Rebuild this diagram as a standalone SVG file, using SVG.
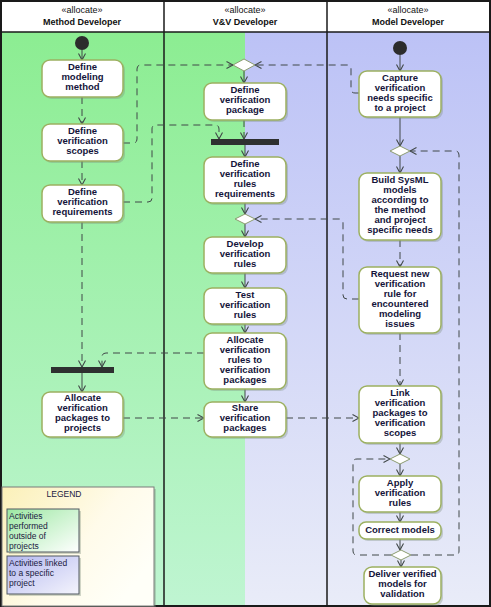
<svg xmlns="http://www.w3.org/2000/svg" width="491" height="607" viewBox="0 0 491 607">
<defs>
<linearGradient id="gGreen" gradientUnits="userSpaceOnUse" x1="0" y1="32" x2="0" y2="607">
<stop offset="0" stop-color="#8ced92"/><stop offset="1" stop-color="#bff5d2"/>
</linearGradient>
<linearGradient id="gBlue" gradientUnits="userSpaceOnUse" x1="0" y1="32" x2="0" y2="607">
<stop offset="0" stop-color="#bcc2f6"/><stop offset="1" stop-color="#e9ecf8"/>
</linearGradient>
<linearGradient id="gLegend" x1="0" y1="0" x2="1" y2="0.6">
<stop offset="0" stop-color="#fbf0b8"/><stop offset="0.6" stop-color="#fffbea"/><stop offset="1" stop-color="#fffff8"/>
</linearGradient>
<linearGradient id="gLG" x1="0" y1="0" x2="1" y2="1">
<stop offset="0" stop-color="#9ce8a2"/><stop offset="1" stop-color="#ffffff"/>
</linearGradient>
<linearGradient id="gLB" x1="0" y1="0" x2="1" y2="1">
<stop offset="0" stop-color="#b4b8f0"/><stop offset="1" stop-color="#f4f4fc"/>
</linearGradient>
<marker id="arr" markerUnits="userSpaceOnUse" markerWidth="9" markerHeight="9" viewBox="0 0 9 9" refX="8" refY="4.5" orient="auto">
<path d="M1.5,1 L8,4.5 L1.5,8" fill="none" stroke="#404848" stroke-width="1.1"/>
</marker>
<style>
.act{fill:#ffffff;stroke:#9cb060;stroke-width:1.5}
.shd{fill:#7c8c7c;opacity:0.35}
.t{font-family:"Liberation Sans",Arial,sans-serif;font-size:9.5px;font-weight:bold;fill:#14143a;text-anchor:middle}
.hs{font-family:"Liberation Sans",Arial,sans-serif;font-size:9px;fill:#111;text-anchor:middle}
.hn{font-family:"Liberation Sans",Arial,sans-serif;font-size:9px;font-weight:bold;fill:#111;text-anchor:middle}
.lt{font-family:"Liberation Sans",Arial,sans-serif;font-size:8.5px;fill:#1a1a40}
.init{fill:#2c2c2c}
.bar{fill:#2e3030}
.dec{fill:#ffffff;stroke:#8c9c70;stroke-width:1}
.cf{fill:none;stroke:#404848;stroke-width:1;marker-end:url(#arr)}
.of{fill:none;stroke:#404848;stroke-width:1;stroke-dasharray:7,5;marker-end:url(#arr)}
.ln{fill:none;stroke:#404848;stroke-width:1;stroke-dasharray:7,5}
</style>
</defs>

<g id="background">
<rect x="0" y="0" width="491" height="607" fill="#ffffff"/>
<rect x="0" y="32" width="164" height="575" fill="url(#gGreen)"/>
<rect x="164" y="32" width="81" height="575" fill="url(#gGreen)"/>
<rect x="245" y="32" width="82" height="575" fill="url(#gBlue)"/>
<rect x="327" y="32" width="164" height="575" fill="url(#gBlue)"/>
</g>

<g id="swimlanes">
<rect x="1" y="1" width="489" height="605" fill="none" stroke="#1a1a1a" stroke-width="2"/>
<line x1="0" y1="32" x2="491" y2="32" stroke="#1a1a1a" stroke-width="1.5"/>
<line x1="164" y1="0" x2="164" y2="607" stroke="#1a1a1a" stroke-width="1.5"/>
<line x1="327" y1="0" x2="327" y2="607" stroke="#1a1a1a" stroke-width="1.5"/>
<text class="hs" x="82" y="13">«allocate»</text>
<text class="hn" x="82" y="25">Method Developer</text>
<text class="hs" x="245" y="13">«allocate»</text>
<text class="hn" x="245" y="25">V&amp;V Developer</text>
<text class="hs" x="408" y="13">«allocate»</text>
<text class="hn" x="408" y="25">Model Developer</text>
</g>

<g id="legend">
<rect x="4" y="489" width="152" height="119" class="shd"/>
<rect x="2" y="487" width="152" height="119" fill="url(#gLegend)" stroke="#7a7a7a" stroke-width="1"/>
<text class="lt" x="64" y="497" text-anchor="middle">LEGEND</text>
<rect x="9" y="511" width="72" height="43" class="shd"/>
<rect x="7" y="509" width="72" height="43" fill="url(#gLG)" stroke="#505860" stroke-width="1"/>
<text class="lt" x="9" y="519"><tspan x="9">Activities</tspan><tspan x="9" dy="10">performed</tspan><tspan x="9" dy="10">outside of</tspan><tspan x="9" dy="10">projects</tspan></text>
<rect x="9" y="558" width="72" height="38" class="shd"/>
<rect x="7" y="556" width="72" height="38" fill="url(#gLB)" stroke="#505860" stroke-width="1"/>
<text class="lt" x="9" y="566"><tspan x="9">Activities linked</tspan><tspan x="9" dy="10">to a specific</tspan><tspan x="9" dy="10">project</tspan></text>
</g>

<g id="connectors">
<path class="cf" d="M82,50 V60"/>
<path class="of" d="M82,97 V124"/>
<path class="of" d="M82,161 V185"/>
<path class="of" d="M82,222 V367"/>
<path class="of" d="M123,143 H133 Q137,143 137,139 V69 Q137,65 141,65 H233"/>
<path class="of" d="M359,93 H355 Q351,93 351,89 V69 Q351,65 347,65 H255"/>
<path class="cf" d="M244,71 V83"/>
<path class="of" d="M244,120 V139"/>
<path class="of" d="M123,202 H148 Q152,202 152,198 V129 Q152,125 156,125 H215 Q219,125 219,129 V139"/>
<path class="cf" d="M245,145 V157"/>
<path class="cf" d="M245,203 V214"/>
<path class="of" d="M359,299 H347 Q343,299 343,295 V223 Q343,219 339,219 H255"/>
<path class="cf" d="M245,224 V237"/>
<path class="cf" d="M245,273 V288"/>
<path class="cf" d="M245,324 V333"/>
<path class="cf" d="M245,389 V402"/>
<path class="of" d="M204,353 H106 Q102,353 102,357 V367"/>
<path class="cf" d="M82,373 V392"/>
<path class="of" d="M123,418 H204"/>
<path class="of" d="M286,418 H359"/>
<path class="cf" d="M400,55 V71"/>
<path class="cf" d="M400,117 V146"/>
<path class="cf" d="M400,156 V173"/>
<path class="of" d="M400,240 V267"/>
<path class="of" d="M400,333 V386"/>
<path class="cf" d="M400,443 V454"/>
<path class="cf" d="M400,464 V476"/>
<path class="cf" d="M400,512 V522"/>
<path class="cf" d="M400,539 V550"/>
<path class="cf" d="M401,560 V567"/>
<path class="of" d="M391,555 H357 Q353,555 353,551 V463 Q353,459 357,459 H390"/>
<path class="of" d="M411,555 H455 Q459,555 459,551 V155 Q459,151 455,151 H410"/>
</g>

<g id="init1"><circle class="init" cx="82" cy="43" r="7"/></g>
<g id="init2"><circle class="init" cx="400" cy="48" r="7"/></g>

<g id="defineModelingMethod">
<rect class="shd" x="44" y="62" width="81" height="37" rx="8"/>
<rect class="act" x="42" y="60" width="81" height="37" rx="8"/>
<text class="t"><tspan x="82.5" y="70.4">Define</tspan><tspan x="82.5" y="80.4">modeling</tspan><tspan x="82.5" y="90.4">method</tspan></text>
</g>
<g id="defineVerificationScopes">
<rect class="shd" x="44" y="126" width="81" height="37" rx="8"/>
<rect class="act" x="42" y="124" width="81" height="37" rx="8"/>
<text class="t"><tspan x="82.5" y="134.4">Define</tspan><tspan x="82.5" y="144.4">verification</tspan><tspan x="82.5" y="154.4">scopes</tspan></text>
</g>
<g id="defineVerificationRequirements">
<rect class="shd" x="44" y="187" width="81" height="37" rx="8"/>
<rect class="act" x="42" y="185" width="81" height="37" rx="8"/>
<text class="t"><tspan x="82.5" y="195.4">Define</tspan><tspan x="82.5" y="205.4">verification</tspan><tspan x="82.5" y="215.4">requirements</tspan></text>
</g>
<g id="fork1"><rect class="bar" x="51" y="367" width="63" height="6"/></g>
<g id="allocatePackagesToProjects">
<rect class="shd" x="44" y="394" width="81" height="45" rx="8"/>
<rect class="act" x="42" y="392" width="81" height="45" rx="8"/>
<text class="t"><tspan x="82.5" y="401.4">Allocate</tspan><tspan x="82.5" y="411.4">verification</tspan><tspan x="82.5" y="421.4">packages to</tspan><tspan x="82.5" y="431.4">projects</tspan></text>
</g>

<g id="merge1"><polygon class="dec" points="233,65 244,59 255,65 244,71"/></g>
<g id="defineVerificationPackage">
<rect class="shd" x="206" y="85" width="82" height="37" rx="8"/>
<rect class="act" x="204" y="83" width="82" height="37" rx="8"/>
<text class="t"><tspan x="245" y="93.4">Define</tspan><tspan x="245" y="103.4">verification</tspan><tspan x="245" y="113.4">package</tspan></text>
</g>
<g id="fork2"><rect class="bar" x="211" y="139" width="68" height="6"/></g>
<g id="defineRulesRequirements">
<rect class="shd" x="206" y="159" width="82" height="46" rx="8"/>
<rect class="act" x="204" y="157" width="82" height="46" rx="8"/>
<text class="t"><tspan x="245" y="166.9">Define</tspan><tspan x="245" y="176.9">verification</tspan><tspan x="245" y="186.9">rules</tspan><tspan x="245" y="196.9">requirements</tspan></text>
</g>
<g id="merge2"><polygon class="dec" points="235,219 245,214 255,219 245,224"/></g>
<g id="developRules">
<rect class="shd" x="206" y="239" width="82" height="36" rx="8"/>
<rect class="act" x="204" y="237" width="82" height="36" rx="8"/>
<text class="t"><tspan x="245" y="246.9">Develop</tspan><tspan x="245" y="256.9">verification</tspan><tspan x="245" y="266.9">rules</tspan></text>
</g>
<g id="testRules">
<rect class="shd" x="206" y="290" width="82" height="36" rx="8"/>
<rect class="act" x="204" y="288" width="82" height="36" rx="8"/>
<text class="t"><tspan x="245" y="297.9">Test</tspan><tspan x="245" y="307.9">verification</tspan><tspan x="245" y="317.9">rules</tspan></text>
</g>
<g id="allocateRulesToPackages">
<rect class="shd" x="206" y="335" width="82" height="56" rx="8"/>
<rect class="act" x="204" y="333" width="82" height="56" rx="8"/>
<text class="t"><tspan x="245" y="342.9">Allocate</tspan><tspan x="245" y="352.9">verification</tspan><tspan x="245" y="362.9">rules to</tspan><tspan x="245" y="372.9">verification</tspan><tspan x="245" y="382.9">packages</tspan></text>
</g>
<g id="sharePackages">
<rect class="shd" x="206" y="404" width="82" height="35" rx="8"/>
<rect class="act" x="204" y="402" width="82" height="35" rx="8"/>
<text class="t"><tspan x="245" y="411.4">Share</tspan><tspan x="245" y="421.4">verification</tspan><tspan x="245" y="431.4">packages</tspan></text>
</g>

<g id="captureNeeds">
<rect class="shd" x="361" y="73" width="82" height="46" rx="8"/>
<rect class="act" x="359" y="71" width="82" height="46" rx="8"/>
<text class="t"><tspan x="400" y="80.9">Capture</tspan><tspan x="400" y="90.9">verification</tspan><tspan x="400" y="100.9">needs specific</tspan><tspan x="400" y="110.9">to a project</tspan></text>
</g>
<g id="merge3"><polygon class="dec" points="390,151 400,146 410,151 400,156"/></g>
<g id="buildModels">
<rect class="shd" x="361" y="175" width="82" height="67" rx="8"/>
<rect class="act" x="359" y="173" width="82" height="67" rx="8"/>
<text class="t"><tspan x="400" y="183.4">Build SysML</tspan><tspan x="400" y="193.4">models</tspan><tspan x="400" y="203.4">according to</tspan><tspan x="400" y="213.4">the method</tspan><tspan x="400" y="223.4">and project</tspan><tspan x="400" y="233.4">specific needs</tspan></text>
</g>
<g id="requestNewRule">
<rect class="shd" x="361" y="269" width="82" height="66" rx="8"/>
<rect class="act" x="359" y="267" width="82" height="66" rx="8"/>
<text class="t"><tspan x="400" y="276.9">Request new</tspan><tspan x="400" y="286.9">verification</tspan><tspan x="400" y="296.9">rule for</tspan><tspan x="400" y="306.9">encountered</tspan><tspan x="400" y="316.9">modeling</tspan><tspan x="400" y="326.9">issues</tspan></text>
</g>
<g id="linkPackagesToScopes">
<rect class="shd" x="361" y="388" width="82" height="57" rx="8"/>
<rect class="act" x="359" y="386" width="82" height="57" rx="8"/>
<text class="t"><tspan x="400" y="396.4">Link</tspan><tspan x="400" y="406.4">verification</tspan><tspan x="400" y="416.4">packages to</tspan><tspan x="400" y="426.4">verification</tspan><tspan x="400" y="436.4">scopes</tspan></text>
</g>
<g id="merge4"><polygon class="dec" points="390,459 400,454 410,459 400,464"/></g>
<g id="applyRules">
<rect class="shd" x="361" y="478" width="82" height="36" rx="8"/>
<rect class="act" x="359" y="476" width="82" height="36" rx="8"/>
<text class="t"><tspan x="400" y="485.9">Apply</tspan><tspan x="400" y="495.9">verification</tspan><tspan x="400" y="505.9">rules</tspan></text>
</g>
<g id="correctModels">
<rect class="shd" x="361" y="524" width="82" height="17" rx="7"/>
<rect class="act" x="359" y="522" width="82" height="17" rx="7"/>
<text class="t" x="400" y="532.6">Correct models</text>
</g>
<g id="decision5"><polygon class="dec" points="391,555 401,550 411,555 401,560"/></g>
<g id="deliverModels">
<rect class="shd" x="366" y="569" width="77" height="37" rx="8"/>
<rect class="act" x="364" y="567" width="77" height="37" rx="8"/>
<text class="t"><tspan x="402.5" y="577.4">Deliver verified</tspan><tspan x="402.5" y="587.4">models for</tspan><tspan x="402.5" y="597.4">validation</tspan></text>
</g>
</svg>
